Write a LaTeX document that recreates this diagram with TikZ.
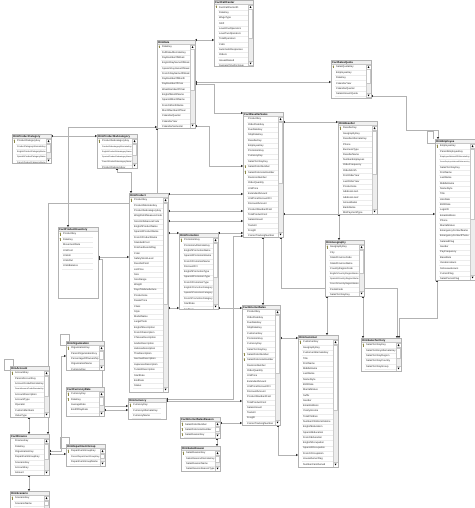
\documentclass[tikz,border=0pt]{standalone}
\usepackage{fontspec}
\usepackage{graphicx}
\setmainfont{Liberation Sans}
\usetikzlibrary{arrows.meta}

\pgfdeclarelayer{paper}
\pgfdeclarelayer{background}
\pgfsetlayers{paper,background,main}

\tikzset{
  tablebox/.style={draw=gray!60, line width=0.9pt, fill=white, inner sep=0pt, outer sep=0pt},
  headfill/.style={fill=gray!12},
  titletext/.style={anchor=west, inner sep=0pt, font=\fontsize{2.7}{3}\selectfont\bfseries},
  rowtext/.style={anchor=west, inner sep=0pt, text=black!85, font=\fontsize{2.5}{3}\selectfont},
  rowline/.style={draw=gray!15, line width=0.2pt},
  fk/.style={draw=gray!60, line width=0.8pt,
    {Latex[length=1.8pt,width=2.6pt,color=gray!40!black]}-{Latex[length=1.8pt,width=2.6pt,color=gray!40!black]}},
  selfloop/.style={draw=gray!60, line width=0.8pt},
}
\colorlet{keycol}{yellow!50!black}

% shrink a text to a width: {width}{text}
\newcommand{\fitto}[2]{\sbox0{#2}\ifdim\wd0>#1pt\resizebox{#1pt}{!}{#2}\else\usebox0\fi}

% [noscroll]{name}{x}{y}{width}{height}{title}{rows}
\newcommand{\dbtable}[8][]{%
  \node[tablebox, minimum width=#5pt, minimum height=#6pt, anchor=north west] (#2) at (#3,#4) {};
  \begin{scope}[shift={(#2.north west)}]
    \fill[headfill] (0,0) rectangle (#5,4.6);
    \draw[gray!45, line width=0.3pt] (0,4.6) -- (#5,4.6);
    \pgfmathsetmacro\titlew{#5-2.5}%
    \node[titletext] at (1.2,2.4) {\fitto{\titlew}{#7}};
    \pgfmathsetmacro\roww{#5-10.6}%
    \begin{scope}
      \clip (0,4.6) rectangle ({#5-5},{#6-0.4});
      \foreach \col [count=\i] in {#8} {
        \node[rowtext] at (5,{1.95+5.3*\i}) {\fitto{\roww}{\col}};
        \draw[rowline] (4,{4.6+5.3*\i}) -- ({#5-5},{4.6+5.3*\i});
      }
    \end{scope}
    \def\tblopt{#1}%
    \ifx\tblopt\empty
      % scrollbar
      \fill[gray!14] ({#5-5},4.6) rectangle (#5,#6);
      \draw[gray!40, line width=0.2pt] ({#5-5},4.6) -- ({#5-5},#6);
      \filldraw[fill=white, draw=gray!45, line width=0.2pt] ({#5-4.5},9.6) rectangle ({#5-0.5},{4.6+0.55*(#6-4.6)});
      \filldraw[fill=white, draw=gray!45, line width=0.2pt] ({#5-4.6},5) rectangle ({#5-0.4},9.2);
      \fill[black] ({#5-3.5},8) -- ({#5-1.5},8) -- ({#5-2.5},6.2) -- cycle;
      \filldraw[fill=white, draw=gray!45, line width=0.2pt] ({#5-4.6},{#6-4.6}) rectangle ({#5-0.4},{#6-0.4});
      \fill[black] ({#5-3.5},{#6-3.4}) -- ({#5-1.5},{#6-3.4}) -- ({#5-2.5},{#6-1.6}) -- cycle;
    \fi
    \draw[gray!60, line width=0.9pt] (0,0) rectangle (#5,#6);
  \end{scope}
}

% key icon: {table}{row}
\newcommand{\pk}[2]{%
  \begin{scope}[shift={(#1.north west)}]
    \draw[keycol, line width=0.4pt] (2.3,{0.9+5.3*#2}) -- (2.3,{3.2+5.3*#2});
    \fill[keycol] (2.3,{0.9+5.3*#2}) circle (0.7pt);
  \end{scope}
}

\begin{document}
\begin{tikzpicture}[x=1pt,y=-1pt]
\begin{pgfonlayer}{paper}
\fill[white] (0,0) rectangle (474,508);
\end{pgfonlayer}
\useasboundingbox (0,0) rectangle (474,508);

% The tables
\dbtable{factcallcenter}{214}{0}{39}{66}{FactCallCenter}{FactCallCenterID,DateKey,WageType,Shift,LevelOneOperators,LevelTwoOperators,TotalOperators,Calls,AutomaticResponses,Orders,IssuesRaised,AverageTimePerIssue,ServiceGrade}
\dbtable{dimdate}{157}{40}{38}{88}{DimDate}{DateKey,FullDateAlternateKey,DayNumberOfWeek,EnglishDayNameOfWeek,SpanishDayNameOfWeek,FrenchDayNameOfWeek,DayNumberOfMonth,DayNumberOfYear,WeekNumberOfYear,EnglishMonthName,SpanishMonthName,FrenchMonthName,MonthNumberOfYear,CalendarQuarter,CalendarYear,CalendarSemester,FiscalQuarter}
\dbtable{factsalesquota}{331}{60}{40}{38}{FactSalesQuota}{SalesQuotaKey,EmployeeKey,DateKey,CalendarYear,CalendarQuarter,SalesAmountQuota}
\dbtable{dimprodcat}{12}{134}{39}{29}{DimProductCategory}{ProductCategoryKey,ProductCategoryAlternateKey,EnglishProductCategoryName,SpanishProductCategoryName,FrenchProductCategoryName}
\dbtable{dimprodsubcat}{97}{134}{40}{34}{DimProductSubcategory}{ProductSubcategoryKey,ProductSubcategoryAlternateKey,EnglishProductSubcategoryName,SpanishProductSubcategoryName,FrenchProductSubcategoryName,ProductCategoryKey}
\dbtable{factresellersales}{243}{112}{40}{125}{FactResellerSales}{ProductKey,OrderDateKey,DueDateKey,ShipDateKey,ResellerKey,EmployeeKey,PromotionKey,CurrencyKey,SalesTerritoryKey,SalesOrderNumber,SalesOrderLineNumber,RevisionNumber,OrderQuantity,UnitPrice,ExtendedAmount,UnitPriceDiscountPct,DiscountAmount,ProductStandardCost,TotalProductCost,SalesAmount,TaxAmt,Freight,CarrierTrackingNumber,CustomerPONumber}
\dbtable{dimreseller}{338}{121}{39}{93}{DimReseller}{ResellerKey,GeographyKey,ResellerAlternateKey,Phone,BusinessType,ResellerName,NumberEmployees,OrderFrequency,OrderMonth,FirstOrderYear,LastOrderYear,ProductLine,AddressLine1,AddressLine2,AnnualSales,BankName,MinPaymentType,MinPaymentAmount}
\dbtable{dimemployee}{435}{139}{40}{141}{DimEmployee}{EmployeeKey,ParentEmployeeKey,EmployeeNationalIDAlternateKey,ParentEmployeeNationalIDAlternateKey,SalesTerritoryKey,FirstName,LastName,MiddleName,NameStyle,Title,HireDate,BirthDate,LoginID,EmailAddress,Phone,MaritalStatus,EmergencyContactName,EmergencyContactPhone,SalariedFlag,Gender,PayFrequency,BaseRate,VacationHours,SickLeaveHours,CurrentFlag,SalesPersonFlag}
\dbtable{dimproduct}{129}{193}{39}{199}{DimProduct}{ProductKey,ProductAlternateKey,ProductSubcategoryKey,WeightUnitMeasureCode,SizeUnitMeasureCode,EnglishProductName,SpanishProductName,FrenchProductName,StandardCost,FinishedGoodsFlag,Color,SafetyStockLevel,ReorderPoint,ListPrice,Size,SizeRange,Weight,DaysToManufacture,ProductLine,DealerPrice,Class,Style,ModelName,LargePhoto,EnglishDescription,FrenchDescription,ChineseDescription,ArabicDescription,HebrewDescription,ThaiDescription,GermanDescription,JapaneseDescription,TurkishDescription,StartDate,EndDate,Status}
\dbtable[noscroll]{factprodinv}{58}{227}{40}{71}{FactProductInventory}{ProductKey,DateKey,MovementDate,UnitCost,UnitsIn,UnitsOut,UnitsBalance}
\dbtable{dimpromotion}{179}{233}{39}{76}{DimPromotion}{PromotionKey,PromotionAlternateKey,EnglishPromotionName,SpanishPromotionName,FrenchPromotionName,DiscountPct,EnglishPromotionType,SpanishPromotionType,FrenchPromotionType,EnglishPromotionCategory,SpanishPromotionCategory,FrenchPromotionCategory,StartDate,EndDate}
\dbtable{dimgeography}{325}{240}{39}{56}{DimGeography}{GeographyKey,City,StateProvinceCode,StateProvinceName,CountryRegionCode,EnglishCountryRegionName,SpanishCountryRegionName,FrenchCountryRegionName,PostalCode,SalesTerritoryKey}
\dbtable{factinternetsales}{242}{305}{38}{120}{FactInternetSales}{ProductKey,OrderDateKey,DueDateKey,ShipDateKey,CustomerKey,PromotionKey,CurrencyKey,SalesTerritoryKey,SalesOrderNumber,SalesOrderLineNumber,RevisionNumber,OrderQuantity,UnitPrice,ExtendedAmount,UnitPriceDiscountPct,DiscountAmount,ProductStandardCost,TotalProductCost,SalesAmount,TaxAmt,Freight,CarrierTrackingNumber}
\dbtable{dimcustomer}{298}{335}{40}{132}{DimCustomer}{CustomerKey,GeographyKey,CustomerAlternateKey,Title,FirstName,MiddleName,LastName,NameStyle,BirthDate,MaritalStatus,Suffix,Gender,EmailAddress,YearlyIncome,TotalChildren,NumberChildrenAtHome,EnglishEducation,SpanishEducation,FrenchEducation,EnglishOccupation,SpanishOccupation,FrenchOccupation,HouseOwnerFlag,NumberCarsOwned,AddressLine1}
\dbtable{dimsalesterritory}{361}{338}{40}{33}{DimSalesTerritory}{SalesTerritoryKey,SalesTerritoryAlternateKey,SalesTerritoryRegion,SalesTerritoryCountry,SalesTerritoryGroup}
\dbtable{dimorganization}{66}{341}{38}{29}{DimOrganization}{OrganizationKey,ParentOrganizationKey,PercentageOfOwnership,OrganizationName,CurrencyKey}
\dbtable{factcurrencyrate}{66}{387}{38}{29}{FactCurrencyRate}{CurrencyKey,DateKey,AverageRate,EndOfDayRate}
\dbtable[noscroll]{dimcurrency}{128}{398}{38}{21}{DimCurrency}{CurrencyKey,CurrencyAlternateKey,CurrencyName}
\dbtable{dimaccount}{10}{366}{39}{51}{DimAccount}{AccountKey,ParentAccountKey,AccountCodeAlternateKey,ParentAccountCodeAlternateKey,AccountDescription,AccountType,Operator,CustomMembers,ValueType}
\dbtable{factfinance}{10}{434}{39}{41}{FactFinance}{FinanceKey,DateKey,OrganizationKey,DepartmentGroupKey,ScenarioKey,AccountKey,Amount}
\dbtable{dimdeptgroup}{66}{444}{39}{22}{DimDepartmentGroup}{DepartmentGroupKey,ParentDepartmentGroupKey,DepartmentGroupName}
\dbtable{dimscenario}{10}{491}{39}{22}{DimScenario}{ScenarioKey,ScenarioName}
\dbtable{factisreason}{180}{417}{40}{21}{FactInternetSalesReason}{SalesOrderNumber,SalesOrderLineNumber,SalesReasonKey}
\dbtable{dimsalesreason}{181}{446}{39}{25}{DimSalesReason}{SalesReasonKey,SalesReasonAlternateKey,SalesReasonName,SalesReasonReasonType}

% The keys
\foreach \t in {factcallcenter,dimdate,factsalesquota,dimprodcat,dimprodsubcat,dimreseller,dimemployee,dimproduct,factprodinv,dimpromotion,dimgeography,dimcustomer,dimsalesterritory,dimorganization,factcurrencyrate,dimcurrency,dimaccount,dimdeptgroup,dimscenario,factisreason,dimsalesreason}
  {\pk{\t}{1}}
\pk{factprodinv}{2}
\pk{factcurrencyrate}{2}
\pk{factisreason}{2}
\pk{factisreason}{3}
\pk{factresellersales}{10}
\pk{factresellersales}{11}
\pk{factinternetsales}{9}
\pk{factinternetsales}{10}

% The relations
\begin{pgfonlayer}{background}
\draw[fk] (dimdate.east |- 0,40) -- (factcallcenter.west |- 0,40);
\draw[fk] (dimdate.east |- 0,82) -- (factsalesquota.west |- 0,82);
\draw[fk] (dimdate.east |- 0,84) -| (214,113) -- (factresellersales.west |- 0,113);
\draw[fk] (dimdate.east |- 0,126) -| (209,166) -- (factresellersales.west |- 0,166);
\draw[fk] (factprodinv.north -| 68,0) |- (dimdate.west |- 0,127);
\draw[fk] (factfinance.north -| 48,0) |- (157,203) -- (dimdate.south -| 157,0);
\draw[fk] (dimproduct.east |- 0,194) -- (factresellersales.west |- 0,194);
\draw[fk] (dimproduct.east |- 0,211) -- (factresellersales.west |- 0,211);
\draw[fk] (dimproduct.east |- 0,221) -- (factresellersales.west |- 0,221);
\draw[fk] (factresellersales.east |- 0,122) -- (dimreseller.west |- 0,122);
\draw[fk] (factresellersales.east |- 0,214) -- (dimemployee.west |- 0,214);
\draw[fk] (factresellersales.west |- 0,233) -- (dimpromotion.east |- 0,233);
\draw[fk] (dimpromotion.west |- 0,233) -- (dimproduct.east |- 0,233);
\draw[fk] (factinternetsales.west |- 0,308) -- (dimpromotion.east |- 0,308);
\draw[fk] (dimpromotion.west |- 0,308) -- (dimproduct.east |- 0,308);
\draw[fk] (factresellersales.west |- 0,236) -| (233,399) -- (dimcurrency.east |- 0,399);
\draw[fk] (factinternetsales.west |- 0,401) -- (dimcurrency.east |- 0,401);
\draw[fk] (factresellersales.south -| 263,0) -- (factinternetsales.north -| 263,0);
\draw[fk] (factresellersales.south -| 281,0) |- (397,288) -- (dimsalesterritory.north -| 397,0);
\draw[fk] (dimreseller.south -| 339,0) -- (dimgeography.north -| 339,0);
\draw[fk] (dimgeography.south -| 327,0) -- (dimcustomer.north -| 327,0);
\draw[fk] (dimgeography.south -| 363,0) -- (dimsalesterritory.north -| 363,0);
\draw[fk] (dimemployee.south -| 437,0) |- (399,318) -- (dimsalesterritory.north -| 399,0);
\draw[fk] (factsalesquota.east |- 0,96) -| (406,130) -| (dimemployee.north -| 438,0);
\draw[fk] (factinternetsales.east |- 0,338) -- (dimcustomer.west |- 0,338);
\draw[fk] (factinternetsales.south -| 278,0) |- (dimcustomer.west |- 0,455);
\draw[fk] (factisreason.east |- 0,423) -- (factinternetsales.west |- 0,423);
\draw[fk] (factisreason.south -| 217,0) -- (dimsalesreason.north -| 217,0);
\draw[fk] (dimprodcat.east |- 0,136) -- (dimprodsubcat.west |- 0,136);
\draw[fk] (dimprodsubcat.south -| 117,0) |- (131,172) -- (dimproduct.north -| 131,0);
\draw[fk] (factprodinv.east |- 0,257) -- (dimproduct.west |- 0,257);
\draw[fk] (factprodinv.east |- 0,259) -| (102,406) -- (dimcurrency.west |- 0,406);
\draw[fk] (factcurrencyrate.east |- 0,410) -- (dimcurrency.west |- 0,410);
\draw[fk] (dimaccount.south -| 29,0) -- (factfinance.north -| 29,0);
\draw[fk] (factfinance.south -| 29,0) -- (dimscenario.north -| 29,0);
\draw[fk] (factfinance.east |- 0,451) -| (61,356) -- (dimorganization.west |- 0,356);
\draw[fk] (factfinance.east |- 0,454) -- (dimdeptgroup.west |- 0,454);

% The self references
\draw[selfloop] (dimemployee.west |- 0,143) -- (427,143) -- (427,131) -- (433,131) -- (dimemployee.north -| 433,0);
\draw[selfloop] (dimaccount.west |- 0,370) -- (4,370) -- (4,359) -- (13,359) -- (dimaccount.north -| 13,0);
\draw[selfloop] (dimorganization.west |- 0,345) -- (60,345) -- (60,334) -- (69,334) -- (dimorganization.north -| 69,0);
\draw[selfloop] (dimdeptgroup.west |- 0,448) -- (60,448) -- (60,437) -- (69,437) -- (dimdeptgroup.north -| 69,0);
\end{pgfonlayer}
\end{tikzpicture}
\end{document}
